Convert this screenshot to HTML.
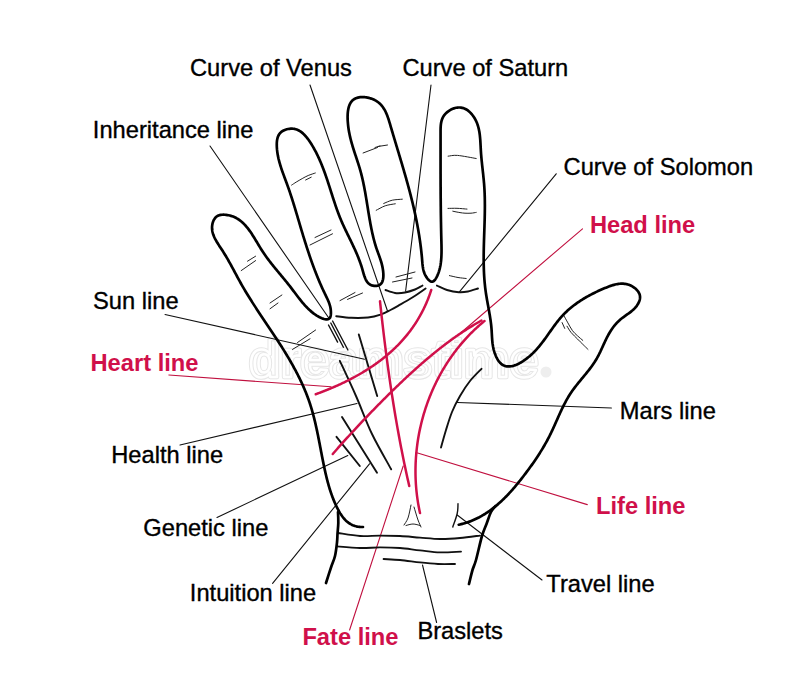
<!DOCTYPE html><html><head><meta charset="utf-8"><style>html,body{margin:0;padding:0;background:#fff;}svg{display:block;}text{font-family:"Liberation Sans",sans-serif;}</style></head><body>
<svg width="800" height="696" viewBox="0 0 800 696">
<rect width="800" height="696" fill="#fff"/>
<g font-family="Liberation Sans" font-weight="700" font-size="51.5" fill="none"><text x="249" y="377" stroke="#e6e6e6" stroke-width="4.5" stroke-linejoin="round">dreamstime</text><text x="249" y="377" stroke="#fff" stroke-width="2.5" stroke-linejoin="round">dreamstime</text><circle cx="546" cy="372" r="5.5" fill="#eee"/></g>
<g fill="none" stroke="#111" stroke-width="1.1" stroke-linecap="round" stroke-linejoin="round"><path d="M310.0 85.0 L387.5 311.0"/><path d="M431.0 85.0 L405.6 291.2"/><path d="M210.0 146.0 L328.8 318.0"/><path d="M556.2 173.8 L459.4 291.9"/><path d="M165.0 314.5 L364.5 359.2"/><path d="M180.0 445.0 L357.0 403.5"/><path d="M217.0 517.5 L347.8 455.5"/><path d="M272.6 583.4 L369.5 463.8"/><path d="M436.6 622.5 L422.5 565.0"/><path d="M542.0 580.0 L457.2 515.0"/><path d="M611.4 408.0 L457.5 402.5"/></g>
<g fill="none" stroke="#c0103f" stroke-width="1.1" stroke-linecap="round" stroke-linejoin="round"><path d="M168.8 375.0 L331.0 386.8"/><path d="M349.6 630.0 L403.2 466.0"/><path d="M587.3 504.6 L416.0 452.5"/><path d="M582.5 228.8 L460.0 333.5"/></g>
<g fill="none" stroke="#222" stroke-width="1.0" stroke-linecap="round" stroke-linejoin="round"><path d="M241.2 270.6 L255.6 260.6"/><path d="M247.5 261.2 L255.6 256.2"/><path d="M270.0 308.8 L278.0 303.0"/><path d="M270.0 303.0 L281.9 295.0"/><path d="M292.5 349.4 L310.0 338.8"/><path d="M297.5 342.5 L315.6 330.0"/><path d="M291.6 185.1 C292.4 184.6 294.4 183.2 296.2 182.1 C298.0 181.0 300.2 179.7 302.2 178.6 C304.2 177.5 306.0 176.4 308.2 175.5 C310.4 174.6 314.1 173.4 315.3 173.0"/><path d="M305.6 180.0 L311.2 177.2"/><path d="M310.0 245.0 L332.5 233.8"/><path d="M315.0 237.5 L331.0 230.0"/><path d="M340.0 300.6 L355.0 292.5"/><path d="M347.5 299.4 L362.5 293.0"/><path d="M363.1 153.0 L377.5 147.5"/><path d="M375.0 147.5 L380.0 146.0"/><path d="M378.0 146.5 L387.5 145.0"/><path d="M376.2 210.3 C377.7 209.6 382.0 206.9 385.2 205.8 C388.4 204.7 393.6 204.1 395.3 203.8"/><path d="M383.7 203.5 C385.1 202.9 389.2 200.9 392.3 200.2 C395.4 199.5 400.6 199.4 402.3 199.2"/><path d="M392.5 282.0 L412.0 278.0"/><path d="M396.0 277.0 L415.0 272.0"/><path d="M448.1 156.2 C449.7 156.1 452.8 155.0 457.5 155.4 C462.2 155.8 473.1 158.0 476.2 158.5"/><path d="M448.0 208.4 C449.5 208.4 453.8 208.2 457.0 208.3 C460.2 208.4 465.3 209.0 467.0 209.1"/><path d="M452.8 211.2 C454.0 211.5 458.0 212.3 460.0 212.6 C462.0 212.9 463.2 213.1 465.0 213.2 C466.8 213.3 469.1 213.3 471.0 213.2 C472.9 213.1 475.4 212.5 476.2 212.4"/><path d="M449.4 275.6 C450.8 275.9 455.2 277.0 458.0 277.5 C460.8 278.0 464.9 278.3 466.2 278.5"/><path d="M564.0 315.8 C564.6 317.0 566.5 320.4 567.9 322.9 C569.3 325.4 570.9 328.5 572.5 330.7 C574.1 332.9 575.9 334.3 577.6 335.9 C579.3 337.5 581.9 339.6 582.8 340.4"/><path d="M567.0 326.2 C567.7 327.3 569.4 330.5 571.2 332.6 C573.0 334.8 575.7 337.2 577.6 339.1 C579.5 341.1 581.1 342.6 582.8 344.3 C584.5 346.0 587.1 348.5 588.0 349.4"/><path d="M562.1 322.6 L564.7 328.4"/><path d="M411.0 505.0 C410.5 507.2 409.2 514.7 408.0 518.0 C406.8 521.3 404.7 523.8 404.0 525.0"/><path d="M414.0 507.0 C414.7 509.2 416.8 516.7 418.0 520.0 C419.2 523.3 420.5 525.8 421.0 527.0"/><path d="M406.0 525.5 C407.2 525.2 410.7 524.0 413.0 524.0 C415.3 524.0 418.8 525.2 420.0 525.5"/></g>
<g fill="none" stroke="#111" stroke-width="1.9" stroke-linecap="round" stroke-linejoin="round"><path d="M336.2 316.2 C338.8 316.5 346.0 317.6 351.2 317.8 C356.5 318.0 363.1 318.0 368.0 317.5 C372.9 317.0 376.8 315.9 380.5 314.6 C384.2 313.4 387.1 311.7 390.5 310.0 C393.9 308.3 396.9 306.5 400.6 304.4 C404.3 302.3 408.5 299.9 412.7 297.3 C416.9 294.7 423.5 290.0 425.6 288.5"/><path d="M385.5 290.0 C387.1 290.5 391.8 292.6 395.0 293.0 C398.2 293.4 401.7 293.1 405.0 292.5 C408.3 291.9 412.1 290.6 415.0 289.5 C417.9 288.4 421.2 286.2 422.5 285.6"/><path d="M436.9 285.6 C438.6 286.3 443.4 288.9 447.0 290.0 C450.6 291.1 455.2 292.0 458.8 292.2 C462.2 292.5 464.8 292.1 468.0 291.5 C471.2 290.9 476.3 289.0 478.0 288.5"/><path d="M358.8 334.4 L377.2 396.0"/><path d="M339.8 360.8 C342.5 366.6 350.6 383.8 356.0 396.0 C361.4 408.2 366.1 421.8 372.0 434.0 C377.9 446.2 388.0 463.4 391.2 469.3"/><path d="M342.0 417.0 L377.0 472.8"/><path d="M336.5 436.8 L359.8 466.0"/><path d="M481.5 368.8 C479.6 370.8 473.6 376.5 470.0 381.0 C466.4 385.5 463.0 390.8 460.0 396.0 C457.0 401.2 454.3 406.3 452.0 412.0 C449.7 417.7 447.8 424.1 446.0 430.0 C444.2 435.9 441.8 444.6 441.0 447.5"/><path d="M338.0 533.0 C341.7 533.5 353.0 535.6 360.0 536.0 C367.0 536.4 373.3 535.6 380.0 535.6 C386.7 535.6 393.3 535.7 400.0 536.0 C406.7 536.3 413.3 537.1 420.0 537.6 C426.7 538.1 433.3 538.9 440.0 539.0 C446.7 539.1 453.3 538.6 460.0 538.0 C466.7 537.4 476.7 536.0 480.0 535.6"/><path d="M337.0 546.4 C340.8 546.7 352.8 547.8 360.0 548.0 C367.2 548.2 373.3 547.4 380.0 547.4 C386.7 547.4 393.3 547.5 400.0 548.0 C406.7 548.5 413.3 549.7 420.0 550.4 C426.7 551.1 433.2 552.2 440.0 552.4 C446.8 552.6 457.5 551.7 461.0 551.6"/><path d="M383.6 559.0 C386.3 559.2 393.9 559.4 400.0 560.0 C406.1 560.6 413.7 561.7 420.0 562.4 C426.3 563.1 432.2 563.7 438.0 564.0 C443.8 564.3 452.2 564.0 455.0 564.0"/></g>
<g fill="none" stroke="#111" stroke-width="1.4" stroke-linecap="round" stroke-linejoin="round"><path d="M328.5 325.0 L337.6 342.1"/><path d="M330.8 323.0 L343.4 347.2"/><path d="M332.6 321.0 L347.9 350.0"/><path d="M458.0 503.8 C457.9 505.4 458.1 509.6 457.2 513.5 C456.4 517.4 453.5 524.8 452.8 527.0"/></g>
<g fill="none" stroke="#000" stroke-width="2.7" stroke-linecap="round" stroke-linejoin="round"><path d="M363.00 527.00 L361.55 527.00 L360.15 526.93 L358.80 526.79 L357.50 526.58 L356.25 526.32 L355.05 525.99 L353.89 525.60 L352.77 525.15 L351.69 524.65 L350.66 524.11 L349.66 523.51 L348.70 522.86 L347.78 522.17 L346.89 521.44 L346.04 520.67 L345.22 519.86 L344.43 519.01 L343.66 518.14 L342.93 517.23 L342.22 516.30 L341.54 515.34 L340.88 514.36 L340.24 513.36 L339.63 512.34 L339.03 511.30 L338.45 510.25 L337.88 509.19 L337.34 508.12 L336.80 507.05 L336.28 505.97 L335.77 504.88 L335.27 503.79 L334.79 502.70 L334.32 501.60 L333.86 500.49 L333.41 499.38 L332.97 498.27 L332.54 497.15 L332.12 496.03 L331.71 494.91 L331.31 493.78 L330.92 492.65 L330.55 491.51 L330.17 490.37 L329.81 489.23 L329.46 488.08 L329.11 486.93 L328.78 485.78 L328.45 484.62 L328.12 483.47 L327.81 482.31 L327.50 481.14 L327.19 479.98 L326.90 478.81 L326.61 477.64 L326.32 476.47 L326.04 475.30 L325.76 474.13 L325.49 472.95 L325.23 471.77 L324.97 470.60 L324.71 469.42 L324.45 468.24 L324.20 467.06 L323.95 465.87 L323.71 464.69 L323.46 463.51 L323.22 462.32 L322.98 461.14 L322.75 459.95 L322.51 458.77 L322.28 457.58 L322.05 456.40 L321.82 455.21 L321.59 454.03 L321.36 452.84 L321.13 451.65 L320.90 450.47 L320.68 449.28 L320.45 448.09 L320.22 446.91 L320.00 445.72 L319.77 444.54 L319.54 443.35 L319.31 442.17 L319.08 440.99 L318.85 439.80 L318.62 438.62 L318.38 437.44 L318.15 436.26 L317.91 435.08 L317.67 433.90 L317.42 432.72 L317.18 431.55 L316.93 430.37 L316.68 429.20 L316.42 428.02 L316.16 426.85 L315.90 425.68 L315.64 424.51 L315.37 423.34 L315.09 422.18 L314.81 421.01 L314.53 419.85 L314.24 418.69 L313.95 417.53 L313.65 416.37 L313.35 415.22 L313.04 414.07 L312.73 412.92 L312.41 411.77 L312.08 410.62 L311.75 409.48 L311.41 408.33 L311.06 407.19 L310.71 406.06 L310.35 404.92 L309.98 403.79 L309.61 402.66 L309.23 401.53 L308.84 400.41 L308.44 399.29 L308.03 398.17 L307.62 397.05 L307.20 395.94 L306.78 394.83 L306.34 393.72 L305.90 392.61 L305.45 391.51 L305.00 390.41 L304.54 389.31 L304.07 388.21 L303.60 387.12 L303.12 386.03 L302.63 384.94 L302.14 383.85 L301.64 382.77 L301.13 381.69 L300.62 380.61 L300.11 379.53 L299.59 378.45 L299.06 377.38 L298.53 376.31 L297.99 375.24 L297.44 374.17 L296.90 373.11 L296.34 372.04 L295.78 370.98 L295.22 369.92 L294.65 368.87 L294.08 367.81 L293.50 366.76 L292.92 365.71 L292.34 364.66 L291.75 363.61 L291.15 362.57 L290.56 361.52 L289.95 360.48 L289.35 359.44 L288.74 358.40 L288.13 357.36 L287.51 356.33 L286.89 355.29 L286.27 354.26 L285.64 353.23 L285.01 352.20 L284.38 351.17 L283.75 350.15 L283.11 349.12 L282.47 348.10 L281.83 347.08 L281.18 346.06 L280.53 345.04 L279.88 344.02 L279.23 343.01 L278.58 341.99 L277.92 340.98 L277.26 339.96 L276.60 338.95 L275.94 337.94 L275.28 336.93 L274.62 335.92 L273.95 334.92 L273.29 333.91 L272.62 332.91 L271.95 331.90 L271.28 330.90 L270.61 329.89 L269.94 328.89 L269.27 327.89 L268.60 326.89 L267.93 325.89 L267.25 324.89 L266.58 323.89 L265.91 322.89 L265.24 321.89 L264.57 320.89 L263.90 319.89 L263.23 318.89 L262.56 317.89 L261.89 316.89 L261.22 315.89 L260.55 314.89 L259.89 313.89 L259.22 312.89 L258.56 311.89 L257.90 310.89 L257.24 309.89 L256.58 308.89 L255.92 307.88 L255.26 306.88 L254.61 305.88 L253.96 304.87 L253.31 303.87 L252.66 302.86 L252.02 301.85 L251.38 300.85 L250.74 299.84 L250.10 298.83 L249.47 297.82 L248.84 296.80 L248.21 295.79 L247.59 294.77 L246.97 293.76 L246.35 292.74 L245.74 291.72 L245.13 290.70 L244.52 289.68 L243.92 288.65 L243.32 287.63 L242.72 286.60 L242.13 285.57 L241.55 284.54 L240.97 283.50 L240.39 282.47 L239.82 281.43 L239.24 280.39 L238.68 279.35 L238.11 278.31 L237.55 277.27 L236.98 276.23 L236.42 275.18 L235.86 274.14 L235.30 273.09 L234.74 272.04 L234.17 270.99 L233.61 269.94 L233.04 268.90 L232.48 267.85 L231.91 266.80 L231.33 265.75 L230.76 264.70 L230.18 263.65 L229.59 262.60 L229.00 261.55 L228.41 260.50 L227.81 259.45 L227.20 258.40 L226.59 257.36 L225.97 256.31 L225.34 255.26 L224.71 254.22 L224.06 253.18 L223.41 252.14 L222.75 251.09 L222.08 250.06 L221.41 249.02 L220.72 247.98 L220.04 246.94 L219.35 245.91 L218.68 244.87 L218.01 243.83 L217.36 242.78 L216.73 241.74 L216.12 240.68 L215.54 239.63 L214.98 238.57 L214.47 237.50 L213.99 236.43 L213.55 235.34 L213.16 234.25 L212.83 233.15 L212.54 232.04 L212.32 230.92 L212.16 229.79 L212.06 228.65 L212.04 227.50 L212.09 226.33 L212.22 225.15 L212.43 223.95 L212.73 222.76 L213.11 221.59 L213.59 220.46 L214.15 219.39 L214.82 218.39 L215.57 217.48 L216.43 216.67 L217.39 216.00 L218.46 215.46 L219.62 215.09 L220.87 214.85 L222.16 214.73 L223.49 214.70 L224.81 214.76 L226.10 214.87 L227.36 215.04 L228.58 215.26 L229.77 215.52 L230.93 215.84 L232.06 216.20 L233.16 216.60 L234.24 217.05 L235.28 217.54 L236.30 218.07 L237.29 218.64 L238.25 219.24 L239.20 219.88 L240.12 220.56 L241.01 221.27 L241.89 222.01 L242.74 222.78 L243.58 223.58 L244.40 224.41 L245.20 225.26 L245.98 226.14 L246.74 227.04 L247.50 227.96 L248.24 228.90 L248.96 229.86 L249.67 230.84 L250.38 231.83 L251.07 232.84 L251.75 233.86 L252.42 234.89 L253.09 235.94 L253.75 236.99 L254.40 238.05 L255.05 239.11 L255.70 240.18 L256.34 241.25 L256.99 242.32 L257.63 243.39 L258.27 244.46 L258.91 245.53 L259.55 246.59 L260.20 247.65 L260.85 248.70 L261.50 249.74 L262.16 250.77 L262.82 251.79 L263.50 252.80 L264.17 253.80 L264.86 254.79 L265.54 255.77 L266.24 256.74 L266.93 257.71 L267.64 258.66 L268.34 259.61 L269.05 260.55 L269.77 261.49 L270.49 262.42 L271.21 263.34 L271.94 264.26 L272.67 265.18 L273.40 266.09 L274.14 267.00 L274.87 267.91 L275.61 268.81 L276.36 269.71 L277.10 270.61 L277.85 271.51 L278.59 272.41 L279.34 273.31 L280.09 274.21 L280.84 275.11 L281.60 276.02 L282.35 276.92 L283.10 277.83 L283.85 278.74 L284.61 279.66 L285.36 280.58 L286.11 281.50 L286.86 282.43 L287.61 283.36 L288.36 284.30 L289.11 285.25 L289.85 286.20 L290.60 287.16 L291.34 288.13 L292.08 289.11 L292.82 290.09 L293.57 291.07 L294.31 292.06 L295.05 293.05 L295.79 294.03 L296.54 295.02 L297.29 296.01 L298.04 296.99 L298.80 297.97 L299.56 298.95 L300.33 299.92 L301.11 300.88 L301.89 301.83 L302.67 302.77 L303.47 303.70 L304.27 304.62 L305.08 305.53 L305.90 306.42 L306.73 307.29 L307.58 308.15 L308.43 308.99 L309.29 309.81 L310.17 310.61 L311.06 311.39 L311.96 312.15 L312.88 312.88 L313.81 313.59 L314.76 314.27 L315.72 314.93 L316.70 315.56 L317.70 316.15 L318.71 316.72 L319.74 317.25 L320.80 317.76 L321.86 318.22 L322.94 318.64 L324.01 318.98 L325.05 319.24 L326.06 319.39 L327.01 319.41 L327.88 319.28 L328.67 318.98 L329.36 318.49 L329.93 317.80 L330.37 316.87 L330.67 315.73 L330.84 314.45 L330.92 313.07 L330.90 311.68 L330.82 310.33 L330.66 309.02 L330.45 307.74 L330.18 306.50 L329.86 305.28 L329.49 304.10 L329.09 302.93 L328.65 301.79 L328.18 300.67 L327.69 299.56 L327.18 298.46 L326.66 297.37 L326.13 296.29 L325.60 295.21 L325.07 294.13 L324.55 293.04 L324.03 291.96 L323.52 290.87 L323.01 289.78 L322.51 288.69 L322.01 287.59 L321.52 286.50 L321.03 285.40 L320.55 284.30 L320.07 283.20 L319.60 282.10 L319.13 280.99 L318.66 279.89 L318.20 278.78 L317.75 277.67 L317.30 276.56 L316.85 275.45 L316.40 274.33 L315.96 273.22 L315.53 272.10 L315.10 270.98 L314.67 269.86 L314.24 268.74 L313.82 267.62 L313.40 266.49 L312.99 265.37 L312.58 264.24 L312.17 263.11 L311.77 261.99 L311.36 260.86 L310.97 259.72 L310.57 258.59 L310.18 257.46 L309.79 256.33 L309.40 255.19 L309.02 254.05 L308.64 252.92 L308.26 251.78 L307.88 250.64 L307.51 249.50 L307.14 248.36 L306.77 247.22 L306.40 246.08 L306.04 244.93 L305.67 243.79 L305.31 242.65 L304.95 241.50 L304.60 240.36 L304.24 239.21 L303.89 238.07 L303.53 236.92 L303.18 235.77 L302.83 234.63 L302.48 233.48 L302.14 232.33 L301.79 231.18 L301.45 230.03 L301.10 228.88 L300.76 227.74 L300.42 226.59 L300.08 225.44 L299.74 224.29 L299.40 223.14 L299.06 221.99 L298.72 220.84 L298.38 219.69 L298.04 218.54 L297.70 217.39 L297.36 216.24 L297.02 215.09 L296.67 213.94 L296.33 212.79 L295.99 211.64 L295.64 210.50 L295.30 209.35 L294.95 208.20 L294.60 207.05 L294.25 205.90 L293.89 204.76 L293.54 203.61 L293.18 202.46 L292.82 201.32 L292.46 200.17 L292.09 199.03 L291.73 197.89 L291.36 196.74 L290.98 195.60 L290.61 194.46 L290.23 193.32 L289.84 192.17 L289.46 191.03 L289.06 189.90 L288.67 188.76 L288.27 187.62 L287.87 186.48 L287.46 185.35 L287.05 184.21 L286.63 183.08 L286.21 181.94 L285.79 180.81 L285.37 179.68 L284.95 178.55 L284.53 177.41 L284.11 176.28 L283.69 175.15 L283.27 174.01 L282.86 172.88 L282.46 171.74 L282.06 170.60 L281.67 169.46 L281.29 168.32 L280.92 167.18 L280.55 166.04 L280.20 164.89 L279.86 163.74 L279.53 162.59 L279.22 161.44 L278.92 160.28 L278.63 159.12 L278.37 157.96 L278.12 156.79 L277.88 155.62 L277.67 154.45 L277.48 153.27 L277.31 152.09 L277.16 150.90 L277.03 149.71 L276.93 148.51 L276.85 147.31 L276.80 146.11 L276.77 144.89 L276.78 143.69 L276.83 142.48 L276.93 141.29 L277.08 140.12 L277.29 138.98 L277.57 137.86 L277.92 136.78 L278.36 135.75 L278.89 134.76 L279.51 133.83 L280.23 132.96 L281.06 132.15 L282.01 131.42 L283.07 130.77 L284.24 130.19 L285.48 129.71 L286.78 129.31 L288.10 129.00 L289.44 128.79 L290.76 128.67 L292.05 128.66 L293.29 128.74 L294.49 128.92 L295.64 129.19 L296.74 129.54 L297.81 129.97 L298.84 130.48 L299.83 131.05 L300.79 131.68 L301.72 132.37 L302.61 133.11 L303.47 133.90 L304.31 134.73 L305.12 135.59 L305.91 136.48 L306.67 137.41 L307.41 138.35 L308.13 139.32 L308.84 140.30 L309.53 141.30 L310.20 142.31 L310.86 143.32 L311.51 144.34 L312.14 145.37 L312.76 146.40 L313.37 147.44 L313.97 148.49 L314.55 149.54 L315.13 150.60 L315.69 151.66 L316.25 152.73 L316.79 153.81 L317.32 154.88 L317.84 155.97 L318.36 157.06 L318.86 158.15 L319.36 159.25 L319.84 160.35 L320.32 161.45 L320.79 162.56 L321.26 163.68 L321.71 164.79 L322.16 165.91 L322.60 167.03 L323.04 168.16 L323.47 169.29 L323.89 170.42 L324.31 171.56 L324.72 172.69 L325.13 173.83 L325.53 174.97 L325.93 176.12 L326.32 177.26 L326.71 178.41 L327.10 179.55 L327.48 180.70 L327.86 181.85 L328.24 183.00 L328.61 184.15 L328.99 185.31 L329.36 186.46 L329.73 187.61 L330.10 188.76 L330.47 189.92 L330.83 191.07 L331.20 192.22 L331.57 193.37 L331.94 194.53 L332.30 195.68 L332.67 196.82 L333.04 197.97 L333.42 199.12 L333.79 200.26 L334.17 201.41 L334.55 202.55 L334.93 203.69 L335.31 204.83 L335.70 205.96 L336.09 207.09 L336.48 208.22 L336.88 209.35 L337.29 210.47 L337.70 211.59 L338.11 212.71 L338.53 213.82 L338.95 214.93 L339.38 216.04 L339.82 217.14 L340.26 218.24 L340.71 219.34 L341.17 220.43 L341.64 221.51 L342.11 222.59 L342.58 223.67 L343.07 224.74 L343.55 225.81 L344.05 226.88 L344.55 227.95 L345.05 229.01 L345.55 230.08 L346.06 231.14 L346.57 232.20 L347.09 233.26 L347.60 234.32 L348.12 235.38 L348.64 236.44 L349.16 237.50 L349.68 238.56 L350.20 239.62 L350.71 240.69 L351.23 241.76 L351.75 242.83 L352.26 243.90 L352.77 244.97 L353.28 246.05 L353.79 247.14 L354.29 248.22 L354.79 249.31 L355.29 250.41 L355.77 251.51 L356.26 252.62 L356.74 253.73 L357.21 254.85 L357.68 255.98 L358.13 257.11 L358.59 258.25 L359.03 259.40 L359.46 260.55 L359.89 261.71 L360.31 262.89 L360.72 264.07 L361.12 265.26 L361.50 266.46 L361.88 267.67 L362.25 268.89 L362.60 270.12 L362.95 271.35 L363.30 272.58 L363.65 273.81 L364.02 275.01 L364.41 276.19 L364.82 277.34 L365.27 278.45 L365.76 279.51 L366.29 280.52 L366.88 281.46 L367.53 282.34 L368.25 283.14 L369.04 283.85 L369.92 284.47 L370.88 284.98 L371.92 285.40 L373.03 285.70 L374.17 285.88 L375.32 285.95 L376.47 285.89 L377.58 285.71 L378.62 285.39 L379.59 284.94 L380.44 284.35 L381.17 283.62 L381.78 282.77 L382.28 281.80 L382.68 280.73 L382.98 279.58 L383.19 278.36 L383.32 277.08 L383.38 275.75 L383.37 274.39 L383.30 273.02 L383.18 271.64 L383.02 270.27 L382.82 268.92 L382.59 267.61 L382.33 266.33 L382.05 265.08 L381.74 263.86 L381.42 262.66 L381.07 261.49 L380.71 260.34 L380.34 259.21 L379.96 258.09 L379.57 256.99 L379.18 255.89 L378.78 254.81 L378.38 253.73 L377.98 252.65 L377.59 251.57 L377.20 250.49 L376.82 249.41 L376.45 248.31 L376.09 247.22 L375.74 246.11 L375.40 245.00 L375.07 243.88 L374.75 242.76 L374.43 241.63 L374.12 240.50 L373.82 239.36 L373.53 238.22 L373.25 237.07 L372.97 235.92 L372.70 234.76 L372.43 233.60 L372.17 232.44 L371.92 231.27 L371.67 230.09 L371.43 228.92 L371.19 227.74 L370.96 226.55 L370.73 225.37 L370.51 224.18 L370.28 222.99 L370.07 221.79 L369.85 220.60 L369.64 219.40 L369.44 218.20 L369.23 216.99 L369.03 215.79 L368.83 214.58 L368.63 213.38 L368.43 212.17 L368.24 210.96 L368.04 209.75 L367.85 208.54 L367.65 207.32 L367.46 206.11 L367.26 204.90 L367.07 203.69 L366.87 202.48 L366.68 201.27 L366.48 200.06 L366.28 198.85 L366.08 197.64 L365.87 196.43 L365.67 195.22 L365.46 194.02 L365.25 192.81 L365.03 191.61 L364.81 190.41 L364.59 189.21 L364.37 188.02 L364.14 186.83 L363.90 185.64 L363.66 184.45 L363.42 183.26 L363.17 182.08 L362.91 180.90 L362.65 179.73 L362.38 178.56 L362.11 177.39 L361.83 176.23 L361.54 175.07 L361.25 173.92 L360.94 172.77 L360.63 171.62 L360.31 170.48 L359.99 169.35 L359.66 168.22 L359.32 167.09 L358.97 165.96 L358.62 164.84 L358.27 163.72 L357.91 162.61 L357.55 161.49 L357.18 160.38 L356.82 159.27 L356.45 158.16 L356.08 157.05 L355.72 155.94 L355.35 154.82 L354.98 153.71 L354.62 152.60 L354.25 151.48 L353.90 150.36 L353.54 149.24 L353.19 148.12 L352.84 147.00 L352.50 145.87 L352.17 144.73 L351.84 143.59 L351.52 142.45 L351.21 141.30 L350.90 140.15 L350.61 138.99 L350.32 137.83 L350.05 136.65 L349.78 135.47 L349.53 134.29 L349.29 133.09 L349.07 131.89 L348.85 130.68 L348.65 129.45 L348.47 128.22 L348.30 126.98 L348.15 125.73 L348.01 124.47 L347.90 123.20 L347.80 121.92 L347.71 120.62 L347.65 119.32 L347.62 118.02 L347.61 116.72 L347.63 115.43 L347.69 114.16 L347.77 112.89 L347.90 111.65 L348.06 110.43 L348.27 109.24 L348.52 108.08 L348.81 106.96 L349.16 105.88 L349.56 104.84 L350.01 103.86 L350.52 102.93 L351.09 102.06 L351.72 101.25 L352.42 100.50 L353.18 99.83 L354.01 99.23 L354.91 98.71 L355.87 98.27 L356.89 97.90 L357.95 97.60 L359.07 97.37 L360.21 97.21 L361.39 97.11 L362.60 97.08 L363.82 97.12 L365.06 97.22 L366.31 97.38 L367.55 97.60 L368.80 97.88 L370.03 98.21 L371.24 98.60 L372.44 99.04 L373.60 99.54 L374.73 100.08 L375.82 100.68 L376.87 101.32 L377.86 102.00 L378.80 102.73 L379.68 103.50 L380.52 104.32 L381.31 105.16 L382.05 106.05 L382.75 106.97 L383.41 107.92 L384.04 108.90 L384.63 109.91 L385.19 110.94 L385.71 112.00 L386.21 113.08 L386.68 114.18 L387.13 115.30 L387.56 116.43 L387.97 117.58 L388.37 118.74 L388.75 119.91 L389.11 121.09 L389.47 122.27 L389.83 123.46 L390.18 124.65 L390.53 125.84 L390.87 127.02 L391.22 128.21 L391.57 129.39 L391.92 130.57 L392.27 131.75 L392.62 132.93 L392.97 134.11 L393.32 135.28 L393.67 136.46 L394.02 137.63 L394.37 138.80 L394.72 139.97 L395.07 141.13 L395.42 142.30 L395.77 143.46 L396.12 144.63 L396.47 145.79 L396.82 146.95 L397.17 148.11 L397.52 149.27 L397.87 150.42 L398.21 151.58 L398.56 152.73 L398.91 153.89 L399.25 155.04 L399.60 156.19 L399.95 157.35 L400.29 158.50 L400.63 159.65 L400.98 160.80 L401.32 161.95 L401.66 163.09 L402.00 164.24 L402.34 165.39 L402.68 166.54 L403.01 167.68 L403.35 168.83 L403.68 169.97 L404.02 171.12 L404.35 172.27 L404.68 173.41 L405.01 174.56 L405.34 175.70 L405.66 176.85 L405.99 177.99 L406.31 179.14 L406.63 180.28 L406.95 181.43 L407.27 182.57 L407.59 183.72 L407.90 184.87 L408.21 186.01 L408.53 187.16 L408.83 188.31 L409.14 189.46 L409.45 190.61 L409.75 191.75 L410.05 192.90 L410.35 194.05 L410.65 195.21 L410.94 196.36 L411.23 197.51 L411.52 198.67 L411.81 199.82 L412.10 200.98 L412.38 202.13 L412.66 203.29 L412.94 204.45 L413.21 205.61 L413.48 206.77 L413.75 207.93 L414.02 209.10 L414.28 210.26 L414.54 211.43 L414.80 212.60 L415.06 213.77 L415.31 214.94 L415.56 216.11 L415.80 217.28 L416.05 218.46 L416.29 219.64 L416.52 220.81 L416.76 221.99 L416.99 223.17 L417.21 224.35 L417.43 225.54 L417.65 226.72 L417.87 227.91 L418.08 229.10 L418.29 230.28 L418.50 231.47 L418.70 232.66 L418.89 233.86 L419.09 235.05 L419.28 236.24 L419.46 237.44 L419.64 238.63 L419.82 239.83 L419.99 241.03 L420.16 242.23 L420.33 243.43 L420.49 244.63 L420.64 245.83 L420.80 247.04 L420.94 248.24 L421.09 249.45 L421.22 250.65 L421.36 251.86 L421.49 253.07 L421.61 254.28 L421.73 255.49 L421.85 256.70 L421.96 257.91 L422.06 259.12 L422.16 260.34 L422.26 261.55 L422.36 262.76 L422.46 263.98 L422.59 265.18 L422.74 266.39 L422.92 267.59 L423.13 268.78 L423.39 269.97 L423.70 271.15 L424.07 272.31 L424.50 273.47 L425.01 274.62 L425.59 275.75 L426.26 276.87 L427.02 277.97 L427.87 279.04 L428.77 280.02 L429.70 280.83 L430.62 281.41 L431.50 281.70 L432.33 281.71 L433.11 281.46 L433.85 280.99 L434.54 280.34 L435.18 279.54 L435.78 278.63 L436.35 277.65 L436.88 276.64 L437.37 275.60 L437.82 274.55 L438.25 273.49 L438.64 272.41 L439.00 271.32 L439.33 270.21 L439.63 269.10 L439.91 267.97 L440.15 266.83 L440.38 265.68 L440.58 264.52 L440.75 263.35 L440.91 262.17 L441.04 260.99 L441.16 259.79 L441.26 258.59 L441.34 257.39 L441.40 256.17 L441.45 254.95 L441.49 253.73 L441.52 252.50 L441.53 251.27 L441.53 250.04 L441.53 248.80 L441.52 247.56 L441.50 246.32 L441.48 245.08 L441.45 243.84 L441.42 242.60 L441.39 241.36 L441.36 240.12 L441.33 238.89 L441.30 237.65 L441.27 236.42 L441.24 235.19 L441.21 233.96 L441.18 232.73 L441.16 231.51 L441.13 230.28 L441.11 229.06 L441.08 227.84 L441.06 226.62 L441.04 225.41 L441.02 224.19 L441.00 222.98 L440.97 221.77 L440.95 220.55 L440.94 219.35 L440.92 218.14 L440.90 216.93 L440.88 215.72 L440.86 214.52 L440.85 213.32 L440.83 212.11 L440.82 210.91 L440.80 209.71 L440.79 208.51 L440.78 207.32 L440.76 206.12 L440.75 204.92 L440.74 203.73 L440.73 202.53 L440.72 201.34 L440.71 200.15 L440.70 198.95 L440.69 197.76 L440.68 196.57 L440.67 195.38 L440.66 194.19 L440.65 193.00 L440.64 191.81 L440.64 190.62 L440.63 189.43 L440.63 188.24 L440.62 187.05 L440.61 185.87 L440.61 184.68 L440.60 183.49 L440.60 182.30 L440.60 181.12 L440.59 179.93 L440.59 178.74 L440.58 177.55 L440.58 176.36 L440.58 175.18 L440.58 173.99 L440.57 172.80 L440.57 171.61 L440.57 170.42 L440.57 169.23 L440.57 168.04 L440.57 166.85 L440.56 165.66 L440.56 164.47 L440.56 163.28 L440.56 162.08 L440.56 160.89 L440.56 159.70 L440.56 158.50 L440.56 157.31 L440.56 156.11 L440.56 154.91 L440.56 153.71 L440.56 152.51 L440.56 151.31 L440.56 150.11 L440.56 148.91 L440.56 147.71 L440.56 146.50 L440.57 145.30 L440.57 144.09 L440.57 142.88 L440.57 141.67 L440.57 140.46 L440.57 139.25 L440.57 138.03 L440.57 136.82 L440.57 135.60 L440.57 134.38 L440.57 133.16 L440.57 131.94 L440.57 130.72 L440.58 129.50 L440.61 128.28 L440.66 127.07 L440.74 125.87 L440.85 124.68 L441.01 123.50 L441.21 122.34 L441.47 121.20 L441.79 120.07 L442.18 118.97 L442.64 117.89 L443.18 116.85 L443.81 115.83 L444.53 114.84 L445.35 113.89 L446.25 112.98 L447.22 112.12 L448.26 111.31 L449.34 110.57 L450.45 109.90 L451.60 109.30 L452.75 108.79 L453.92 108.36 L455.09 108.02 L456.26 107.76 L457.44 107.59 L458.61 107.50 L459.77 107.51 L460.92 107.61 L462.07 107.80 L463.19 108.09 L464.29 108.46 L465.37 108.94 L466.42 109.51 L467.45 110.17 L468.44 110.92 L469.39 111.74 L470.30 112.61 L471.17 113.54 L471.99 114.49 L472.77 115.48 L473.49 116.48 L474.17 117.49 L474.80 118.53 L475.38 119.57 L475.92 120.63 L476.42 121.70 L476.88 122.79 L477.30 123.89 L477.68 125.00 L478.03 126.12 L478.35 127.25 L478.64 128.39 L478.90 129.53 L479.13 130.69 L479.34 131.86 L479.53 133.03 L479.70 134.21 L479.84 135.40 L479.97 136.59 L480.09 137.79 L480.19 138.99 L480.28 140.19 L480.36 141.40 L480.43 142.61 L480.50 143.83 L480.56 145.04 L480.63 146.26 L480.69 147.48 L480.75 148.69 L480.82 149.91 L480.89 151.12 L480.97 152.34 L481.05 153.55 L481.15 154.76 L481.24 155.96 L481.35 157.17 L481.46 158.37 L481.57 159.58 L481.69 160.78 L481.81 161.98 L481.94 163.18 L482.06 164.38 L482.19 165.57 L482.32 166.77 L482.46 167.96 L482.59 169.16 L482.72 170.35 L482.86 171.54 L482.99 172.74 L483.12 173.93 L483.25 175.12 L483.37 176.31 L483.49 177.51 L483.61 178.70 L483.73 179.89 L483.84 181.08 L483.94 182.27 L484.05 183.46 L484.14 184.66 L484.23 185.85 L484.31 187.04 L484.38 188.24 L484.45 189.43 L484.52 190.63 L484.57 191.82 L484.63 193.02 L484.67 194.22 L484.71 195.41 L484.75 196.61 L484.78 197.81 L484.80 199.01 L484.83 200.20 L484.84 201.40 L484.85 202.60 L484.86 203.80 L484.87 205.00 L484.87 206.20 L484.86 207.40 L484.86 208.60 L484.85 209.80 L484.83 211.00 L484.82 212.20 L484.80 213.41 L484.78 214.61 L484.75 215.81 L484.73 217.01 L484.70 218.21 L484.67 219.42 L484.64 220.62 L484.60 221.82 L484.57 223.02 L484.53 224.23 L484.49 225.43 L484.46 226.63 L484.42 227.84 L484.38 229.04 L484.34 230.24 L484.30 231.45 L484.26 232.65 L484.22 233.85 L484.18 235.06 L484.14 236.26 L484.10 237.46 L484.06 238.67 L484.02 239.87 L483.98 241.07 L483.95 242.28 L483.91 243.48 L483.88 244.68 L483.85 245.89 L483.82 247.09 L483.80 248.29 L483.77 249.49 L483.75 250.69 L483.73 251.90 L483.72 253.10 L483.70 254.30 L483.69 255.50 L483.69 256.70 L483.68 257.90 L483.68 259.10 L483.69 260.31 L483.69 261.51 L483.71 262.71 L483.72 263.90 L483.74 265.10 L483.77 266.30 L483.80 267.50 L483.84 268.70 L483.88 269.90 L483.92 271.10 L483.97 272.29 L484.03 273.49 L484.09 274.69 L484.16 275.88 L484.24 277.08 L484.32 278.27 L484.40 279.47 L484.50 280.66 L484.60 281.85 L484.71 283.05 L484.82 284.24 L484.95 285.43 L485.08 286.62 L485.21 287.81 L485.36 289.00 L485.51 290.19 L485.68 291.38 L485.85 292.57 L486.02 293.76 L486.21 294.95 L486.40 296.13 L486.59 297.32 L486.79 298.51 L487.00 299.69 L487.21 300.88 L487.42 302.06 L487.63 303.25 L487.85 304.43 L488.07 305.61 L488.28 306.80 L488.50 307.98 L488.71 309.16 L488.93 310.34 L489.14 311.53 L489.34 312.71 L489.55 313.89 L489.75 315.07 L489.94 316.25 L490.13 317.43 L490.31 318.61 L490.48 319.80 L490.65 320.98 L490.81 322.16 L490.96 323.34 L491.10 324.52 L491.22 325.70 L491.34 326.88 L491.45 328.06 L491.54 329.24 L491.62 330.42 L491.70 331.60 L491.76 332.79 L491.83 333.97 L491.89 335.15 L491.96 336.34 L492.03 337.52 L492.11 338.71 L492.20 339.90 L492.30 341.09 L492.42 342.28 L492.56 343.48 L492.73 344.67 L492.92 345.87 L493.13 347.08 L493.38 348.28 L493.66 349.49 L493.98 350.70 L494.34 351.92 L494.74 353.14 L495.18 354.36 L495.68 355.58 L496.21 356.79 L496.80 357.98 L497.42 359.13 L498.09 360.22 L498.80 361.26 L499.55 362.21 L500.33 363.07 L501.15 363.83 L502.01 364.49 L502.90 365.04 L503.82 365.50 L504.77 365.86 L505.74 366.14 L506.74 366.33 L507.75 366.43 L508.79 366.46 L509.85 366.41 L510.91 366.28 L512.00 366.09 L513.09 365.84 L514.19 365.52 L515.29 365.14 L516.40 364.71 L517.51 364.22 L518.63 363.69 L519.73 363.11 L520.84 362.50 L521.93 361.84 L523.02 361.15 L524.09 360.43 L525.15 359.69 L526.20 358.92 L527.22 358.13 L528.23 357.32 L529.21 356.51 L530.18 355.67 L531.12 354.83 L532.04 353.97 L532.95 353.11 L533.83 352.23 L534.70 351.34 L535.55 350.45 L536.38 349.54 L537.20 348.63 L538.01 347.71 L538.80 346.78 L539.58 345.84 L540.35 344.90 L541.10 343.95 L541.85 343.00 L542.59 342.04 L543.31 341.08 L544.03 340.12 L544.75 339.15 L545.45 338.18 L546.15 337.21 L546.85 336.24 L547.54 335.26 L548.23 334.29 L548.91 333.31 L549.60 332.34 L550.28 331.37 L550.97 330.40 L551.65 329.43 L552.34 328.46 L553.02 327.50 L553.72 326.55 L554.41 325.59 L555.11 324.65 L555.82 323.70 L556.53 322.77 L557.25 321.84 L557.98 320.92 L558.71 320.00 L559.46 319.10 L560.21 318.20 L560.98 317.31 L561.76 316.44 L562.55 315.57 L563.35 314.71 L564.17 313.87 L565.00 313.03 L565.85 312.21 L566.70 311.40 L567.57 310.60 L568.45 309.81 L569.35 309.03 L570.25 308.26 L571.17 307.50 L572.10 306.75 L573.03 306.01 L573.98 305.28 L574.94 304.56 L575.91 303.85 L576.89 303.15 L577.88 302.46 L578.87 301.78 L579.88 301.11 L580.89 300.45 L581.92 299.80 L582.95 299.16 L583.99 298.52 L585.03 297.90 L586.09 297.28 L587.15 296.68 L588.22 296.08 L589.29 295.49 L590.37 294.91 L591.46 294.34 L592.55 293.77 L593.65 293.22 L594.75 292.67 L595.86 292.13 L596.97 291.60 L598.08 291.08 L599.20 290.56 L600.33 290.05 L601.46 289.55 L602.59 289.06 L603.72 288.58 L604.86 288.10 L606.00 287.63 L607.14 287.17 L608.28 286.73 L609.43 286.30 L610.58 285.89 L611.72 285.51 L612.87 285.15 L614.02 284.83 L615.17 284.53 L616.32 284.28 L617.47 284.06 L618.62 283.89 L619.77 283.76 L620.92 283.69 L622.07 283.67 L623.22 283.70 L624.36 283.80 L625.51 283.95 L626.65 284.18 L627.79 284.47 L628.93 284.84 L630.06 285.28 L631.19 285.80 L632.30 286.39 L633.38 287.05 L634.41 287.78 L635.40 288.56 L636.32 289.41 L637.17 290.31 L637.93 291.26 L638.59 292.25 L639.15 293.28 L639.58 294.36 L639.88 295.46 L640.04 296.60 L640.04 297.76 L639.91 298.93 L639.64 300.11 L639.26 301.28 L638.78 302.42 L638.22 303.53 L637.60 304.60 L636.93 305.61 L636.20 306.57 L635.43 307.49 L634.62 308.38 L633.78 309.22 L632.90 310.03 L631.99 310.82 L631.05 311.58 L630.10 312.32 L629.13 313.05 L628.15 313.76 L627.16 314.47 L626.16 315.18 L625.17 315.88 L624.18 316.59 L623.20 317.31 L622.23 318.05 L621.27 318.80 L620.34 319.57 L619.43 320.37 L618.55 321.19 L617.69 322.03 L616.85 322.89 L616.03 323.77 L615.24 324.67 L614.47 325.59 L613.72 326.52 L613.00 327.47 L612.30 328.44 L611.62 329.42 L610.96 330.42 L610.33 331.42 L609.71 332.44 L609.11 333.47 L608.53 334.51 L607.96 335.56 L607.40 336.62 L606.86 337.68 L606.33 338.75 L605.80 339.83 L605.29 340.91 L604.78 342.00 L604.27 343.09 L603.77 344.18 L603.27 345.27 L602.77 346.37 L602.28 347.46 L601.77 348.55 L601.27 349.64 L600.76 350.73 L600.25 351.82 L599.72 352.89 L599.19 353.97 L598.65 355.04 L598.10 356.10 L597.53 357.15 L596.95 358.20 L596.35 359.23 L595.73 360.26 L595.10 361.27 L594.46 362.28 L593.80 363.27 L593.12 364.26 L592.44 365.24 L591.74 366.22 L591.03 367.19 L590.31 368.15 L589.59 369.10 L588.85 370.06 L588.11 371.00 L587.36 371.95 L586.60 372.89 L585.84 373.82 L585.08 374.76 L584.31 375.69 L583.54 376.62 L582.77 377.55 L582.00 378.48 L581.23 379.41 L580.46 380.35 L579.69 381.28 L578.93 382.21 L578.17 383.15 L577.41 384.09 L576.66 385.03 L575.92 385.98 L575.18 386.93 L574.46 387.89 L573.74 388.85 L573.03 389.82 L572.33 390.80 L571.65 391.78 L570.97 392.77 L570.31 393.77 L569.67 394.77 L569.03 395.78 L568.41 396.81 L567.80 397.83 L567.20 398.87 L566.61 399.91 L566.03 400.95 L565.47 402.01 L564.91 403.07 L564.35 404.13 L563.81 405.20 L563.27 406.27 L562.74 407.34 L562.22 408.42 L561.70 409.51 L561.19 410.60 L560.68 411.69 L560.18 412.78 L559.68 413.87 L559.18 414.97 L558.69 416.07 L558.20 417.17 L557.70 418.27 L557.22 419.37 L556.73 420.47 L556.24 421.57 L555.75 422.67 L555.26 423.77 L554.77 424.87 L554.27 425.97 L553.78 427.07 L553.28 428.16 L552.77 429.26 L552.26 430.35 L551.75 431.44 L551.23 432.52 L550.71 433.60 L550.18 434.68 L549.64 435.75 L549.10 436.82 L548.55 437.89 L547.99 438.95 L547.43 440.00 L546.86 441.06 L546.28 442.11 L545.70 443.15 L545.11 444.19 L544.52 445.23 L543.92 446.27 L543.31 447.30 L542.70 448.33 L542.08 449.35 L541.45 450.37 L540.82 451.39 L540.19 452.41 L539.55 453.42 L538.90 454.43 L538.25 455.44 L537.60 456.44 L536.94 457.44 L536.27 458.44 L535.60 459.43 L534.93 460.42 L534.25 461.41 L533.56 462.40 L532.88 463.39 L532.18 464.37 L531.49 465.35 L530.79 466.33 L530.08 467.30 L529.38 468.28 L528.67 469.25 L527.95 470.22 L527.23 471.18 L526.51 472.15 L525.78 473.11 L525.06 474.08 L524.32 475.04 L523.59 475.99 L522.85 476.95 L522.11 477.91 L521.37 478.86 L520.62 479.81 L519.87 480.75 L519.11 481.70 L518.35 482.64 L517.59 483.58 L516.82 484.51 L516.05 485.44 L515.28 486.36 L514.50 487.28 L513.71 488.20 L512.92 489.11 L512.13 490.02 L511.33 490.92 L510.52 491.81 L509.71 492.70 L508.90 493.58 L508.08 494.46 L507.25 495.33 L506.42 496.19 L505.58 497.05 L504.74 497.89 L503.89 498.73 L503.04 499.57 L502.17 500.39 L501.31 501.21 L500.43 502.02 L499.55 502.82 L498.66 503.61 L497.77 504.39 L496.87 505.16 L495.96 505.93 L495.04 506.68 L494.12 507.42 L493.19 508.15 L492.25 508.88 L491.30 509.59 L490.35 510.29 L489.39 510.98 L488.42 511.65 L487.44 512.32 L486.45 512.97 L485.46 513.62 L484.45 514.24 L483.44 514.86 L482.42 515.46 L481.39 516.05 L480.35 516.63 L479.31 517.20 L478.25 517.75 L477.18 518.28 L476.11 518.80 L475.02 519.31 L473.93 519.80 L472.82 520.28 L471.71 520.74 L470.58 521.19 L469.45 521.62 L468.30 522.03 L467.14 522.43 L465.98 522.81 L464.80 523.18 L463.61 523.53 L462.41 523.86 L461.20 524.17 L459.98 524.47 L458.75 524.75"/><path d="M338.0 512.0 C338.1 513.8 338.4 519.3 338.3 523.0 C338.2 526.7 337.7 530.8 337.5 534.0 C337.3 537.2 337.4 538.8 337.0 542.5 C336.6 546.2 336.0 551.8 335.0 556.0 C334.0 560.2 332.5 563.0 331.0 567.5 C329.5 572.0 326.8 580.4 326.0 583.0"/><path d="M495.5 506.0 C494.8 507.0 492.5 509.0 491.0 512.0 C489.5 515.0 488.0 520.0 486.5 524.0 C485.0 528.0 483.8 530.0 482.0 536.0 C480.2 542.0 477.6 554.3 476.0 560.0 C474.4 565.7 473.7 566.0 472.5 570.0 C471.3 574.0 469.6 581.7 469.0 584.0"/></g>
<g fill="none" stroke="#d0104a" stroke-width="2.5" stroke-linecap="round" stroke-linejoin="round"><path d="M315.75 394.20 L316.69 393.86 L317.64 393.52 L318.58 393.17 L319.52 392.82 L320.47 392.47 L321.41 392.11 L322.35 391.75 L323.29 391.39 L324.23 391.02 L325.17 390.65 L326.11 390.28 L327.05 389.90 L327.99 389.52 L328.92 389.14 L329.86 388.75 L330.80 388.36 L331.73 387.97 L332.66 387.57 L333.60 387.17 L334.53 386.77 L335.46 386.36 L336.38 385.95 L337.31 385.54 L338.24 385.12 L339.16 384.70 L340.08 384.27 L341.01 383.85 L341.93 383.41 L342.84 382.98 L343.76 382.54 L344.68 382.10 L345.59 381.65 L346.50 381.20 L347.41 380.75 L348.32 380.29 L349.23 379.83 L350.13 379.36 L351.03 378.89 L351.93 378.42 L352.83 377.95 L353.73 377.47 L354.62 376.98 L355.51 376.49 L356.40 376.00 L357.29 375.51 L358.17 375.01 L359.05 374.51 L359.93 374.00 L360.81 373.49 L361.68 372.97 L362.55 372.45 L363.42 371.93 L364.29 371.41 L365.15 370.87 L366.01 370.34 L366.87 369.80 L367.72 369.26 L368.58 368.71 L369.42 368.16 L370.27 367.61 L371.11 367.05 L371.95 366.49 L372.79 365.92 L373.62 365.35 L374.45 364.77 L375.27 364.19 L376.10 363.61 L376.91 363.02 L377.73 362.43 L378.54 361.83 L379.35 361.23 L380.15 360.63 L380.95 360.02 L381.75 359.41 L382.54 358.79 L383.33 358.17 L384.12 357.54 L384.90 356.91 L385.68 356.27 L386.45 355.64 L387.22 354.99 L387.98 354.34 L388.74 353.69 L389.50 353.03 L390.25 352.37 L391.00 351.71 L391.74 351.04 L392.48 350.36 L393.21 349.68 L393.94 349.00 L394.67 348.31 L395.39 347.62 L396.10 346.92 L396.81 346.22 L397.52 345.51 L398.22 344.80 L398.92 344.08 L399.61 343.36 L400.29 342.64 L400.97 341.91 L401.65 341.17 L402.32 340.44 L402.99 339.69 L403.65 338.94 L404.30 338.19 L404.95 337.43 L405.60 336.67 L406.23 335.90 L406.87 335.13 L407.49 334.35 L408.12 333.57 L408.73 332.78 L409.34 331.99 L409.95 331.20 L410.55 330.39 L411.14 329.59 L411.73 328.78 L412.31 327.97 L412.89 327.15 L413.46 326.32 L414.03 325.50 L414.59 324.66 L415.14 323.83 L415.69 322.99 L416.23 322.14 L416.76 321.29 L417.29 320.44 L417.82 319.58 L418.34 318.72 L418.85 317.85 L419.35 316.98 L419.85 316.10 L420.35 315.22 L420.83 314.34 L421.31 313.45 L421.79 312.56 L422.26 311.67 L422.72 310.77 L423.18 309.86 L423.63 308.95 L424.07 308.04 L424.51 307.13 L424.94 306.21 L425.36 305.28 L425.78 304.36 L426.19 303.42 L426.59 302.49 L426.99 301.55 L427.38 300.61 L427.77 299.66 L428.15 298.71 L428.52 297.76 L428.88 296.80 L429.24 295.84 L429.59 294.88 L429.94 293.91 L430.28 292.94 L430.61 291.96 L430.93 290.98 L431.25 290.00"/><path d="M380.00 301.25 L380.11 302.25 L380.21 303.25 L380.32 304.25 L380.43 305.25 L380.53 306.24 L380.64 307.24 L380.75 308.24 L380.86 309.24 L380.97 310.24 L381.08 311.24 L381.19 312.24 L381.30 313.24 L381.41 314.24 L381.52 315.23 L381.63 316.23 L381.75 317.23 L381.86 318.23 L381.97 319.23 L382.09 320.23 L382.20 321.23 L382.31 322.23 L382.43 323.23 L382.54 324.23 L382.66 325.22 L382.78 326.22 L382.89 327.22 L383.01 328.22 L383.13 329.22 L383.25 330.22 L383.36 331.22 L383.48 332.22 L383.60 333.22 L383.72 334.22 L383.84 335.21 L383.96 336.21 L384.08 337.21 L384.21 338.21 L384.33 339.21 L384.45 340.21 L384.57 341.21 L384.70 342.21 L384.82 343.21 L384.95 344.20 L385.07 345.20 L385.20 346.20 L385.32 347.20 L385.45 348.20 L385.58 349.20 L385.70 350.20 L385.83 351.19 L385.96 352.19 L386.09 353.19 L386.22 354.19 L386.35 355.19 L386.48 356.19 L386.61 357.18 L386.74 358.18 L386.88 359.18 L387.01 360.18 L387.14 361.18 L387.28 362.17 L387.41 363.17 L387.55 364.17 L387.68 365.17 L387.82 366.17 L387.96 367.16 L388.09 368.16 L388.23 369.16 L388.37 370.16 L388.51 371.15 L388.65 372.15 L388.79 373.15 L388.93 374.15 L389.07 375.14 L389.21 376.14 L389.35 377.14 L389.50 378.13 L389.64 379.13 L389.79 380.13 L389.93 381.12 L390.08 382.12 L390.22 383.12 L390.37 384.11 L390.52 385.11 L390.66 386.11 L390.81 387.10 L390.96 388.10 L391.11 389.09 L391.26 390.09 L391.41 391.09 L391.56 392.08 L391.72 393.08 L391.87 394.07 L392.02 395.07 L392.18 396.06 L392.33 397.06 L392.49 398.05 L392.64 399.05 L392.80 400.04 L392.96 401.04 L393.12 402.03 L393.27 403.03 L393.43 404.02 L393.59 405.01 L393.75 406.01 L393.92 407.00 L394.08 408.00 L394.24 408.99 L394.40 409.98 L394.57 410.98 L394.73 411.97 L394.90 412.96 L395.07 413.96 L395.23 414.95 L395.40 415.94 L395.57 416.94 L395.74 417.93 L395.91 418.92 L396.08 419.91 L396.25 420.90 L396.42 421.90 L396.59 422.89 L396.77 423.88 L396.94 424.87 L397.11 425.86 L397.29 426.85 L397.47 427.85 L397.64 428.84 L397.82 429.83 L398.00 430.82 L398.18 431.81 L398.36 432.80 L398.54 433.79 L398.72 434.78 L398.90 435.77 L399.08 436.76 L399.27 437.75 L399.45 438.74 L399.64 439.73 L399.82 440.72 L400.01 441.70 L400.20 442.69 L400.39 443.68 L400.57 444.67 L400.76 445.66 L400.95 446.65 L401.15 447.63 L401.34 448.62 L401.53 449.61 L401.72 450.60 L401.92 451.58 L402.11 452.57 L402.31 453.56 L402.51 454.54 L402.70 455.53 L402.90 456.52 L403.10 457.50 L403.30 458.49 L403.50 459.47 L403.71 460.46 L403.91 461.44 L404.11 462.43 L404.32 463.41 L404.52 464.40 L404.73 465.38 L404.93 466.37 L405.14 467.35 L405.35 468.33 L405.56 469.32 L405.77 470.30 L405.98 471.28 L406.19 472.26 L406.40 473.25 L406.62 474.23 L406.83 475.21 L407.05 476.19 L407.26 477.18 L407.48 478.16 L407.70 479.14 L407.92 480.12 L408.14 481.10 L408.36 482.08 L408.58 483.06 L408.80 484.04 L409.02 485.02 L409.25 486.00"/><path d="M332.75 454.00 L333.41 453.24 L334.07 452.48 L334.73 451.73 L335.39 450.97 L336.05 450.22 L336.72 449.46 L337.38 448.71 L338.05 447.95 L338.71 447.20 L339.38 446.45 L340.05 445.70 L340.71 444.95 L341.38 444.19 L342.05 443.44 L342.73 442.70 L343.40 441.95 L344.07 441.20 L344.74 440.45 L345.42 439.70 L346.09 438.96 L346.77 438.21 L347.45 437.46 L348.12 436.72 L348.80 435.97 L349.48 435.23 L350.16 434.49 L350.84 433.74 L351.53 433.00 L352.21 432.26 L352.89 431.52 L353.58 430.78 L354.26 430.04 L354.95 429.30 L355.63 428.56 L356.32 427.82 L357.01 427.08 L357.70 426.35 L358.39 425.61 L359.08 424.87 L359.77 424.14 L360.46 423.40 L361.15 422.67 L361.84 421.93 L362.54 421.20 L363.23 420.47 L363.93 419.74 L364.62 419.00 L365.32 418.27 L366.02 417.54 L366.72 416.81 L367.42 416.08 L368.12 415.36 L368.82 414.63 L369.52 413.90 L370.22 413.17 L370.92 412.45 L371.62 411.72 L372.33 410.99 L373.03 410.27 L373.74 409.55 L374.44 408.82 L375.15 408.10 L375.85 407.38 L376.56 406.65 L377.27 405.93 L377.98 405.21 L378.69 404.49 L379.40 403.77 L380.11 403.05 L380.82 402.33 L381.53 401.62 L382.24 400.90 L382.96 400.18 L383.67 399.47 L384.38 398.75 L385.10 398.04 L385.81 397.32 L386.53 396.61 L387.25 395.89 L387.96 395.18 L388.68 394.47 L389.40 393.76 L390.12 393.05 L390.84 392.34 L391.56 391.63 L392.28 390.92 L393.01 390.21 L393.73 389.51 L394.45 388.80 L395.18 388.10 L395.91 387.39 L396.63 386.69 L397.36 385.99 L398.09 385.29 L398.82 384.59 L399.55 383.89 L400.28 383.19 L401.01 382.49 L401.74 381.80 L402.47 381.10 L403.21 380.41 L403.94 379.71 L404.68 379.02 L405.41 378.33 L406.15 377.64 L406.89 376.95 L407.63 376.26 L408.37 375.58 L409.11 374.89 L409.86 374.21 L410.60 373.52 L411.34 372.84 L412.09 372.16 L412.84 371.48 L413.58 370.80 L414.33 370.13 L415.08 369.45 L415.83 368.78 L416.58 368.10 L417.34 367.43 L418.09 366.76 L418.85 366.09 L419.60 365.42 L420.36 364.76 L421.12 364.09 L421.88 363.43 L422.64 362.77 L423.40 362.11 L424.16 361.45 L424.93 360.79 L425.69 360.13 L426.46 359.48 L427.23 358.83 L428.00 358.18 L428.77 357.53 L429.54 356.88 L430.32 356.23 L431.09 355.59 L431.87 354.94 L432.64 354.30 L433.42 353.66 L434.20 353.03 L434.98 352.39 L435.77 351.76 L436.55 351.13 L437.34 350.50 L438.12 349.87 L438.91 349.24 L439.70 348.62 L440.50 348.00 L441.29 347.38 L442.08 346.76 L442.88 346.14 L443.68 345.53 L444.48 344.92 L445.28 344.31 L446.08 343.70 L446.89 343.10 L447.70 342.50 L448.50 341.90 L449.31 341.30 L450.12 340.70 L450.94 340.11 L451.75 339.52 L452.57 338.93 L453.39 338.34 L454.21 337.76 L455.03 337.18 L455.85 336.60 L456.68 336.02 L457.51 335.45 L458.34 334.88 L459.17 334.31 L460.00 333.74 L460.84 333.18 L461.67 332.62 L462.51 332.06 L463.36 331.50 L464.20 330.95 L465.04 330.40 L465.89 329.85 L466.74 329.31 L467.59 328.77 L468.44 328.23 L469.30 327.69 L470.16 327.16 L471.02 326.63 L471.88 326.10 L472.74 325.58 L473.61 325.05 L474.48 324.54 L475.35 324.02 L476.22 323.51 L477.09 323.00 L477.97 322.49 L478.85 321.99 L479.73 321.49 L480.61 320.99 L481.50 320.50"/><path d="M484.50 321.00 L483.71 321.64 L482.93 322.29 L482.15 322.94 L481.38 323.60 L480.61 324.26 L479.84 324.93 L479.08 325.59 L478.32 326.27 L477.57 326.95 L476.82 327.63 L476.08 328.31 L475.34 329.00 L474.60 329.70 L473.87 330.40 L473.14 331.10 L472.42 331.80 L471.70 332.51 L470.99 333.23 L470.28 333.95 L469.57 334.67 L468.87 335.39 L468.17 336.12 L467.48 336.86 L466.79 337.59 L466.10 338.33 L465.42 339.08 L464.75 339.83 L464.08 340.58 L463.41 341.33 L462.75 342.09 L462.09 342.86 L461.43 343.62 L460.79 344.39 L460.14 345.17 L459.50 345.94 L458.86 346.72 L458.23 347.51 L457.60 348.29 L456.98 349.08 L456.36 349.88 L455.75 350.68 L455.14 351.48 L454.53 352.28 L453.93 353.09 L453.33 353.90 L452.74 354.71 L452.15 355.53 L451.57 356.35 L450.99 357.17 L450.41 358.00 L449.84 358.83 L449.28 359.66 L448.72 360.50 L448.16 361.33 L447.61 362.18 L447.06 363.02 L446.52 363.87 L445.98 364.72 L445.45 365.57 L444.92 366.43 L444.39 367.29 L443.87 368.15 L443.35 369.01 L442.84 369.88 L442.34 370.75 L441.83 371.62 L441.34 372.50 L440.84 373.37 L440.35 374.25 L439.87 375.14 L439.39 376.02 L438.91 376.91 L438.44 377.80 L437.98 378.69 L437.52 379.59 L437.06 380.49 L436.61 381.39 L436.16 382.29 L435.72 383.19 L435.28 384.10 L434.85 385.01 L434.42 385.92 L433.99 386.84 L433.57 387.75 L433.16 388.67 L432.75 389.59 L432.34 390.51 L431.94 391.44 L431.55 392.37 L431.16 393.30 L430.77 394.23 L430.39 395.16 L430.01 396.09 L429.64 397.03 L429.27 397.97 L428.90 398.91 L428.55 399.85 L428.19 400.80 L427.84 401.75 L427.50 402.69 L427.16 403.64 L426.82 404.60 L426.49 405.55 L426.17 406.50 L425.85 407.46 L425.53 408.42 L425.22 409.38 L424.91 410.34 L424.61 411.30 L424.32 412.27 L424.02 413.23 L423.74 414.20 L423.45 415.17 L423.18 416.14 L422.90 417.11 L422.64 418.09 L422.37 419.06 L422.12 420.04 L421.86 421.02 L421.61 421.99 L421.37 422.97 L421.13 423.96 L420.90 424.94 L420.67 425.92 L420.44 426.91 L420.22 427.89 L420.01 428.88 L419.80 429.87 L419.60 430.86 L419.40 431.85 L419.20 432.84 L419.01 433.83 L418.83 434.82 L418.65 435.81 L418.47 436.81 L418.30 437.81 L418.14 438.80 L417.98 439.80 L417.82 440.80 L417.67 441.80 L417.52 442.79 L417.38 443.79 L417.25 444.80 L417.12 445.80 L416.99 446.80 L416.87 447.80 L416.76 448.80 L416.64 449.81 L416.54 450.81 L416.44 451.82 L416.34 452.82 L416.25 453.83 L416.17 454.83 L416.09 455.84 L416.01 456.85 L415.94 457.86 L415.88 458.86 L415.82 459.87 L415.76 460.88 L415.71 461.89 L415.66 462.90 L415.62 463.90 L415.59 464.91 L415.56 465.92 L415.54 466.93 L415.52 467.94 L415.50 468.95 L415.49 469.96 L415.49 470.97 L415.49 471.98 L415.49 472.98 L415.51 473.99 L415.52 475.00 L415.54 476.01 L415.57 477.02 L415.60 478.03 L415.64 479.04 L415.68 480.04 L415.73 481.05 L415.78 482.06 L415.84 483.07 L415.90 484.07 L415.97 485.08 L416.04 486.09 L416.12 487.09 L416.20 488.10 L416.29 489.10 L416.39 490.10 L416.48 491.11 L416.59 492.11 L416.70 493.11 L416.81 494.12 L416.93 495.12 L417.06 496.12 L417.19 497.12 L417.33 498.12 L417.47 499.11 L417.61 500.11 L417.77 501.11 L417.92 502.11 L418.08 503.10 L418.25 504.09 L418.43 505.09 L418.60 506.08 L418.79 507.07 L418.98 508.06 L419.17 509.05 L419.37 510.04 L419.57 511.03 L419.78 512.01 L420.00 513.00"/></g>
<text x="190.0" y="76.2" font-size="23.7" font-weight="400" fill="#000" stroke="#000" stroke-width="0.35">Curve of Venus</text>
<text x="402.4" y="76.2" font-size="23.7" font-weight="400" fill="#000" stroke="#000" stroke-width="0.35">Curve of Saturn</text>
<text x="92.8" y="137.8" font-size="23.7" font-weight="400" fill="#000" stroke="#000" stroke-width="0.35">Inheritance line</text>
<text x="563.6" y="175.2" font-size="23.7" font-weight="400" fill="#000" stroke="#000" stroke-width="0.35">Curve of Solomon</text>
<text x="589.9" y="233.2" font-size="23.7" font-weight="700" fill="#d0104a" stroke="#d0104a" stroke-width="0">Head line</text>
<text x="93.0" y="309.0" font-size="23.7" font-weight="400" fill="#000" stroke="#000" stroke-width="0.35">Sun line</text>
<text x="90.5" y="370.5" font-size="23.7" font-weight="700" fill="#d0104a" stroke="#d0104a" stroke-width="0">Heart line</text>
<text x="619.8" y="419.1" font-size="23.7" font-weight="400" fill="#000" stroke="#000" stroke-width="0.35">Mars line</text>
<text x="111.2" y="463.2" font-size="23.7" font-weight="400" fill="#000" stroke="#000" stroke-width="0.35">Health line</text>
<text x="596.0" y="513.7" font-size="23.7" font-weight="700" fill="#d0104a" stroke="#d0104a" stroke-width="0">Life line</text>
<text x="143.3" y="535.5" font-size="23.7" font-weight="400" fill="#000" stroke="#000" stroke-width="0.35">Genetic line</text>
<text x="189.8" y="600.6" font-size="23.7" font-weight="400" fill="#000" stroke="#000" stroke-width="0.35">Intuition line</text>
<text x="546.3" y="591.5" font-size="23.7" font-weight="400" fill="#000" stroke="#000" stroke-width="0.35">Travel line</text>
<text x="302.4" y="645.2" font-size="23.7" font-weight="700" fill="#d0104a" stroke="#d0104a" stroke-width="0">Fate line</text>
<text x="417.4" y="639.1" font-size="23.7" font-weight="400" fill="#000" stroke="#000" stroke-width="0.35">Braslets</text>
</svg></body></html>
